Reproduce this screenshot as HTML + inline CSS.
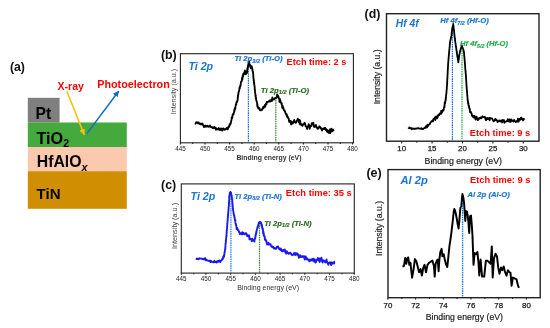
<!DOCTYPE html>
<html><head><meta charset="utf-8"><style>
html,body{margin:0;padding:0;background:#fff;overflow:hidden;width:550px;height:328px;}
svg{display:block;will-change:transform;font-family:"Liberation Sans", sans-serif;}
</style></head><body>
<svg width="550" height="328" viewBox="0 0 550 328">
<rect width="550" height="328" fill="#fff"/>
<text x="9.9" y="70.7" font-size="12.3" font-weight="bold" fill="#111">(a)</text>
<rect x="27.8" y="97.8" width="31.8" height="24.8" fill="#7f7f7f"/>
<rect x="27.8" y="122.5" width="99" height="24.6" fill="#45a93d"/>
<rect x="27.8" y="147" width="99" height="24.2" fill="#fac9ae"/>
<rect x="27.8" y="171.2" width="99" height="37.6" fill="#d08f02"/>
<text x="35.5" y="118.8" font-size="15.7" font-weight="bold" fill="#000">Pt</text>
<text x="36.5" y="143.8" font-size="16.2" font-weight="bold" fill="#000">TiO<tspan font-size="10.5" dy="3">2</tspan></text>
<text x="36.8" y="167.4" font-size="15.8" font-weight="bold" fill="#000">HfAlO<tspan font-size="10.8" dy="3.4" font-style="italic">x</tspan></text>
<text x="36.6" y="199.2" font-size="15" font-weight="bold" fill="#000">TiN</text>
<text x="57.6" y="89.9" font-size="10.5" font-weight="bold" fill="#ff0000">X-ray</text>
<text x="97.2" y="87.8" font-size="10.8" font-weight="bold" fill="#ff0000">Photoelectron</text>
<defs><marker id="ay" markerWidth="6" markerHeight="6" refX="5.5" refY="3" orient="auto" markerUnits="userSpaceOnUse"><path d="M0,0 L6,3 L0,6 z" fill="#fcbf08"/></marker><marker id="ab" markerWidth="6" markerHeight="6" refX="5.5" refY="3" orient="auto" markerUnits="userSpaceOnUse"><path d="M0,0 L6,3 L0,6 z" fill="#0d6fc4"/></marker></defs>
<line x1="66.9" y1="91.2" x2="84.2" y2="134.6" stroke="#fcbf08" stroke-width="1.5" marker-end="url(#ay)"/>
<line x1="86.9" y1="133.6" x2="118.6" y2="91.2" stroke="#0d6fc4" stroke-width="1.5" marker-end="url(#ab)"/>
<text x="160.9" y="58.6" font-size="12.4" font-weight="bold" fill="#111">(b)</text>
<rect x="180.4" y="53.7" width="173" height="89.1" fill="none" stroke="#222" stroke-width="1.1"/>
<line x1="180.4" y1="142.8" x2="180.4" y2="144.4" stroke="#222" stroke-width="1.1"/>
<line x1="205.0" y1="142.8" x2="205.0" y2="144.4" stroke="#222" stroke-width="1.1"/>
<line x1="229.6" y1="142.8" x2="229.6" y2="144.4" stroke="#222" stroke-width="1.1"/>
<line x1="254.2" y1="142.8" x2="254.2" y2="144.4" stroke="#222" stroke-width="1.1"/>
<line x1="278.8" y1="142.8" x2="278.8" y2="144.4" stroke="#222" stroke-width="1.1"/>
<line x1="303.4" y1="142.8" x2="303.4" y2="144.4" stroke="#222" stroke-width="1.1"/>
<line x1="328.0" y1="142.8" x2="328.0" y2="144.4" stroke="#222" stroke-width="1.1"/>
<line x1="352.6" y1="142.8" x2="352.6" y2="144.4" stroke="#222" stroke-width="1.1"/>
<line x1="192.7" y1="142.8" x2="192.7" y2="144.0" stroke="#222" stroke-width="1.1"/>
<line x1="217.3" y1="142.8" x2="217.3" y2="144.0" stroke="#222" stroke-width="1.1"/>
<line x1="241.9" y1="142.8" x2="241.9" y2="144.0" stroke="#222" stroke-width="1.1"/>
<line x1="266.5" y1="142.8" x2="266.5" y2="144.0" stroke="#222" stroke-width="1.1"/>
<line x1="291.1" y1="142.8" x2="291.1" y2="144.0" stroke="#222" stroke-width="1.1"/>
<line x1="315.7" y1="142.8" x2="315.7" y2="144.0" stroke="#222" stroke-width="1.1"/>
<line x1="340.3" y1="142.8" x2="340.3" y2="144.0" stroke="#222" stroke-width="1.1"/>
<text x="180.4" y="151.2" font-size="6.3" fill="#222" text-anchor="middle">445</text>
<text x="205.0" y="151.2" font-size="6.3" fill="#222" text-anchor="middle">450</text>
<text x="229.6" y="151.2" font-size="6.3" fill="#222" text-anchor="middle">455</text>
<text x="254.2" y="151.2" font-size="6.3" fill="#222" text-anchor="middle">460</text>
<text x="278.8" y="151.2" font-size="6.3" fill="#222" text-anchor="middle">465</text>
<text x="303.4" y="151.2" font-size="6.3" fill="#222" text-anchor="middle">470</text>
<text x="328.0" y="151.2" font-size="6.3" fill="#222" text-anchor="middle">475</text>
<text x="352.6" y="151.2" font-size="6.3" fill="#222" text-anchor="middle">480</text>
<text x="236.4" y="160.2" font-size="6.9" font-weight="bold" fill="#333">Binding energy (eV)</text>
<text transform="translate(176.1,91.6) rotate(-90)" font-size="7.2" fill="#444" text-anchor="middle">Intensity (a.u.)</text>
<line x1="248.4" y1="64" x2="248.4" y2="142" stroke="#1a75d2" stroke-width="1.2" stroke-dasharray="1.6 0.7"/>
<line x1="275.8" y1="100" x2="275.8" y2="142" stroke="#3d8b34" stroke-width="1.2" stroke-dasharray="1.6 0.7"/>
<polyline points="194.9,123.5 195.4,123.8 195.9,122.8 196.5,122.3 197.0,122.1 197.6,123.2 198.1,122.5 198.7,122.4 199.2,123.8 199.8,123.9 200.4,124.4 200.9,123.4 201.4,124.3 202.0,124.4 202.5,123.5 203.0,125.4 203.6,125.4 204.1,127.2 204.6,125.8 205.2,125.5 205.8,126.7 206.4,125.9 207.0,126.5 207.5,125.6 208.0,126.1 208.5,126.8 209.0,126.7 209.5,126.3 210.0,125.5 210.5,126.9 211.0,126.7 211.5,127.4 212.0,127.2 212.5,128.0 213.0,127.3 213.4,127.6 213.9,128.2 214.4,127.0 214.9,127.6 215.4,127.7 216.0,129.8 216.5,128.4 217.0,129.1 217.6,129.3 218.2,128.7 218.7,127.9 219.3,130.1 219.8,129.0 220.4,129.9 220.9,128.3 221.5,129.0 222.0,130.4 222.5,130.5 223.1,128.3 223.6,128.3 224.1,129.3 224.7,129.8 225.4,129.2 226.0,129.2 226.6,128.0 227.2,129.1 227.8,129.3 228.2,127.6 228.6,126.3 229.0,126.4 229.2,127.0 229.5,124.5 229.8,125.3 230.0,124.0 230.2,124.1 230.3,123.5 230.5,123.2 230.7,123.8 230.8,122.4 231.0,122.5 231.2,120.9 231.3,120.1 231.5,120.2 231.7,117.2 231.8,118.8 232.0,118.4 232.2,116.8 232.3,117.6 232.5,116.2 232.7,114.2 232.8,115.4 233.0,114.2 233.2,114.0 233.4,113.8 233.6,114.3 233.8,112.8 234.0,112.2 234.1,112.0 234.3,109.7 234.4,111.6 234.6,109.2 234.7,109.9 234.9,108.1 235.0,107.7 235.1,107.7 235.3,109.0 235.4,107.5 235.6,106.0 235.7,105.8 235.8,104.6 236.0,105.0 236.1,104.1 236.2,104.6 236.4,102.4 236.5,102.7 236.7,101.8 236.8,101.4 237.0,102.1 237.1,101.1 237.3,101.0 237.4,100.9 237.6,100.4 237.7,97.9 237.7,98.9 237.8,96.6 237.9,97.4 237.9,98.4 238.0,96.2 238.1,95.5 238.1,95.4 238.2,94.8 238.3,94.3 238.3,93.1 238.4,94.0 238.5,93.4 238.6,92.0 238.8,91.9 238.9,91.6 239.0,91.4 239.1,90.4 239.3,90.1 239.4,88.8 239.5,87.7 239.6,87.6 239.8,88.3 239.9,87.8 240.0,86.6 240.2,85.6 240.3,85.7 240.4,86.3 240.6,85.6 240.7,83.5 240.8,83.5 241.0,81.9 241.1,81.6 241.2,82.1 241.3,81.5 241.5,81.8 241.6,81.5 241.7,80.7 241.9,80.6 242.0,78.6 242.1,77.7 242.2,78.5 242.4,79.7 242.5,77.4 242.7,75.7 242.8,76.2 243.0,76.7 243.1,74.2 243.3,75.1 243.5,73.5 243.7,74.5 243.8,73.7 244.0,72.8 244.3,73.6 244.7,71.2 245.0,70.5 245.2,73.0 245.3,71.4 245.4,74.4 245.6,73.2 245.8,72.9 245.9,74.3 246.1,73.9 246.4,73.5 246.6,72.7 246.9,73.1 247.1,70.0 247.2,70.8 247.3,70.5 247.3,71.6 247.4,68.1 247.5,68.9 247.6,67.7 247.6,67.5 247.7,68.0 247.8,67.3 247.9,67.6 248.0,65.4 248.1,65.5 248.2,65.7 248.3,64.9 248.5,63.4 248.6,64.0 248.8,61.8 248.9,63.4 249.1,61.5 249.2,61.8 249.3,62.7 249.4,63.7 249.4,64.9 249.5,64.0 249.6,64.3 249.7,65.6 249.8,65.0 250.1,64.8 250.3,67.3 250.6,66.8 250.8,68.4 251.1,67.2 251.7,66.1 252.3,68.9 252.4,69.4 252.5,71.0 252.6,70.7 252.7,71.1 252.8,71.9 252.9,71.7 253.0,72.6 253.0,71.9 253.1,73.9 253.1,73.4 253.2,74.2 253.2,75.5 253.3,76.2 253.3,75.2 253.4,78.1 253.4,76.5 253.5,78.2 253.5,78.7 253.6,78.7 253.6,79.1 253.7,80.9 253.7,80.7 253.8,80.8 253.8,79.6 253.9,80.9 253.9,82.9 254.0,82.7 254.1,82.3 254.2,83.0 254.2,83.8 254.3,85.0 254.4,85.3 254.5,86.3 254.5,85.4 254.6,87.3 254.6,86.6 254.7,87.3 254.7,89.4 254.8,88.6 254.8,88.9 254.9,89.3 254.9,89.7 255.0,91.7 255.0,92.1 255.1,92.1 255.1,92.1 255.2,93.3 255.2,92.9 255.3,93.9 255.3,94.3 255.4,94.6 255.5,96.3 255.6,96.9 255.7,97.0 255.7,95.0 255.8,98.4 255.9,98.0 256.0,97.6 256.1,98.5 256.2,99.9 256.3,100.4 256.4,100.7 256.5,100.6 256.6,101.0 256.7,102.2 256.8,102.0 256.9,101.9 257.0,102.6 257.1,103.5 257.2,104.4 257.3,106.4 257.4,104.1 257.5,106.1 257.6,106.1 257.9,106.9 258.1,108.2 258.4,108.6 258.7,107.9 258.9,108.1 259.2,107.9 259.6,109.2 260.1,110.4 260.6,109.5 261.0,110.4 261.4,110.1 261.8,109.5 262.2,109.9 262.6,108.4 263.0,107.4 263.3,106.6 263.6,108.2 263.9,106.6 264.3,106.2 264.6,106.9 264.9,104.9 265.2,106.9 265.5,105.4 265.9,103.8 266.2,103.3 266.5,104.5 266.8,101.8 267.2,101.9 267.5,102.1 268.0,102.0 268.4,101.5 268.9,101.6 269.3,100.6 269.8,100.5 270.3,101.5 270.8,100.7 271.4,99.4 271.9,101.2 272.4,97.4 272.9,99.1 273.5,99.5 274.0,99.6 274.6,98.6 275.2,97.9 275.7,98.5 276.1,97.5 276.6,97.8 277.1,94.3 277.5,96.9 277.8,95.2 278.2,96.4 278.3,96.7 278.4,97.2 278.5,96.6 278.7,97.9 278.8,97.7 278.9,98.7 279.0,98.9 279.2,98.6 279.5,101.8 279.7,101.1 279.9,98.9 280.1,102.2 280.4,100.4 280.6,102.0 280.8,102.1 281.1,102.6 281.3,103.8 281.5,103.8 281.7,103.2 281.9,105.1 282.1,105.9 282.3,107.8 282.5,106.1 282.7,105.9 282.9,107.2 283.1,108.6 283.3,107.7 283.5,108.3 283.7,110.0 284.0,109.9 284.2,110.6 284.5,110.2 284.7,110.5 284.9,111.5 285.2,112.1 285.4,112.4 285.6,113.6 285.9,114.1 286.1,114.6 286.4,115.0 286.6,114.1 286.8,114.4 287.0,116.8 287.2,116.5 287.4,117.1 287.6,116.3 287.9,117.7 288.1,117.8 288.3,118.1 288.5,118.8 288.7,118.5 288.9,120.5 289.3,121.9 289.7,120.5 290.0,121.6 290.4,120.9 290.8,123.0 291.2,124.5 291.7,121.4 292.2,122.2 292.7,123.7 293.2,122.5 293.7,122.1 294.2,119.9 294.7,121.6 295.2,122.5 295.7,122.9 296.2,122.3 296.8,120.5 297.3,120.3 297.8,118.6 298.3,119.5 298.8,122.3 299.1,121.1 299.4,119.9 299.7,123.9 300.1,120.4 300.4,124.7 300.7,123.1 301.0,124.4 301.5,125.0 302.0,124.5 302.5,125.9 303.1,124.4 303.6,124.0 304.1,123.7 304.6,122.7 305.1,123.8 305.6,126.2 306.1,126.1 306.6,127.0 307.1,129.0 307.7,126.5 308.2,126.3 308.7,124.1 309.2,125.7 309.7,128.8 310.2,126.5 310.7,125.6 311.2,126.1 311.8,123.1 312.3,124.4 312.8,123.7 313.3,122.6 313.8,126.6 314.3,127.0 314.8,125.7 315.4,126.5 315.9,124.9 316.4,127.0 316.9,127.5 317.4,128.7 317.9,128.9 318.4,127.7 318.9,127.1 319.4,126.3 320.0,126.8 320.5,128.6 321.0,128.7 321.5,128.1 322.0,130.5 322.6,129.3 323.1,128.6 323.6,128.5 324.1,129.1 324.6,127.9 325.2,128.0 325.7,130.0 326.2,129.0 326.6,129.6 327.1,131.8 327.5,130.2 328.0,132.4 328.4,130.9 328.9,133.1 329.3,132.0 329.8,129.3 330.3,133.1 330.8,131.2 331.3,128.7 331.9,131.4 332.4,131.4 332.9,129.4 333.4,130.2 333.9,130.9" fill="none" stroke="#000" stroke-width="1.8" stroke-linejoin="round"/>
<text x="188.4" y="69.6" font-size="10.7" font-weight="bold" font-style="italic" fill="#1a75d2">Ti 2p</text>
<text x="234.5" y="61.2" font-size="7.7" font-weight="bold" font-style="italic" fill="#1a75d2" stroke="#1a75d2" stroke-width="0.18">Ti 2p<tspan font-size="5.6" dy="1.8">3/2</tspan><tspan dy="-1.8"> (Ti-O)</tspan></text>
<text x="260.8" y="92.6" font-size="7.75" font-weight="bold" font-style="italic" fill="#2a6e22" stroke="#2a6e22" stroke-width="0.18">Ti 2p<tspan font-size="5.6" dy="1.8">1/2</tspan><tspan dy="-1.8"> (Ti-O)</tspan></text>
<text x="286.6" y="65" font-size="9.2" font-weight="bold" fill="#ff0000">Etch time: 2 s</text>
<text x="161" y="188.9" font-size="12.4" font-weight="bold" fill="#111">(c)</text>
<rect x="181.3" y="183.9" width="173" height="89.2" fill="none" stroke="#222" stroke-width="1.1"/>
<line x1="181.3" y1="273.1" x2="181.3" y2="274.70000000000005" stroke="#222" stroke-width="1.1"/>
<line x1="206.0" y1="273.1" x2="206.0" y2="274.70000000000005" stroke="#222" stroke-width="1.1"/>
<line x1="230.7" y1="273.1" x2="230.7" y2="274.70000000000005" stroke="#222" stroke-width="1.1"/>
<line x1="255.4" y1="273.1" x2="255.4" y2="274.70000000000005" stroke="#222" stroke-width="1.1"/>
<line x1="280.1" y1="273.1" x2="280.1" y2="274.70000000000005" stroke="#222" stroke-width="1.1"/>
<line x1="304.8" y1="273.1" x2="304.8" y2="274.70000000000005" stroke="#222" stroke-width="1.1"/>
<line x1="329.5" y1="273.1" x2="329.5" y2="274.70000000000005" stroke="#222" stroke-width="1.1"/>
<line x1="354.2" y1="273.1" x2="354.2" y2="274.70000000000005" stroke="#222" stroke-width="1.1"/>
<line x1="193.7" y1="273.1" x2="193.7" y2="274.3" stroke="#222" stroke-width="1.1"/>
<line x1="218.4" y1="273.1" x2="218.4" y2="274.3" stroke="#222" stroke-width="1.1"/>
<line x1="243.1" y1="273.1" x2="243.1" y2="274.3" stroke="#222" stroke-width="1.1"/>
<line x1="267.8" y1="273.1" x2="267.8" y2="274.3" stroke="#222" stroke-width="1.1"/>
<line x1="292.5" y1="273.1" x2="292.5" y2="274.3" stroke="#222" stroke-width="1.1"/>
<line x1="317.2" y1="273.1" x2="317.2" y2="274.3" stroke="#222" stroke-width="1.1"/>
<line x1="341.9" y1="273.1" x2="341.9" y2="274.3" stroke="#222" stroke-width="1.1"/>
<text x="181.3" y="281.2" font-size="6.3" fill="#222" text-anchor="middle">445</text>
<text x="206.0" y="281.2" font-size="6.3" fill="#222" text-anchor="middle">450</text>
<text x="230.7" y="281.2" font-size="6.3" fill="#222" text-anchor="middle">455</text>
<text x="255.4" y="281.2" font-size="6.3" fill="#222" text-anchor="middle">460</text>
<text x="280.1" y="281.2" font-size="6.3" fill="#222" text-anchor="middle">465</text>
<text x="304.8" y="281.2" font-size="6.3" fill="#222" text-anchor="middle">470</text>
<text x="329.5" y="281.2" font-size="6.3" fill="#222" text-anchor="middle">475</text>
<text x="354.2" y="281.2" font-size="6.3" fill="#222" text-anchor="middle">480</text>
<text x="237.2" y="290.4" font-size="7" fill="#333">Binding energy (eV)</text>
<text transform="translate(177.1,226) rotate(-90)" font-size="7.3" fill="#444" text-anchor="middle">Intensity (a.u.)</text>
<line x1="230.9" y1="194" x2="230.9" y2="273" stroke="#3f93e2" stroke-width="1.4" stroke-dasharray="1.6 0.7"/>
<line x1="259.5" y1="223" x2="259.5" y2="273" stroke="#3d8b34" stroke-width="1.2" stroke-dasharray="1.6 0.7"/>
<polyline points="196.3,259.8 196.9,258.4 197.5,259.0 198.1,258.9 198.6,259.2 199.2,258.2 199.8,258.7 200.4,258.6 201.0,258.5 201.6,258.6 202.2,258.9 202.8,259.0 203.4,258.8 204.0,259.5 204.6,259.0 205.1,258.0 205.7,260.3 206.2,259.7 206.8,259.8 207.3,260.5 207.9,260.7 208.4,260.8 209.0,260.6 209.5,261.3 210.0,260.6 210.6,262.1 211.1,261.0 211.7,261.6 212.2,261.8 212.8,262.0 213.3,261.9 213.9,262.4 214.4,260.7 214.9,262.1 215.5,262.0 216.0,261.8 216.6,262.6 217.1,261.3 217.7,261.7 218.2,260.6 218.8,261.7 219.3,260.7 219.8,260.4 220.3,262.1 220.8,261.0 221.3,260.4 221.8,260.3 222.3,258.9 222.6,258.5 222.9,259.0 223.2,256.6 223.5,257.7 223.7,255.7 223.8,256.5 223.9,255.1 224.1,256.7 224.2,255.6 224.4,253.9 224.5,252.3 224.6,252.5 224.7,252.4 224.8,251.1 224.8,251.4 224.9,251.4 225.0,250.0 225.1,249.1 225.2,249.4 225.2,248.1 225.3,248.4 225.3,247.0 225.4,247.8 225.4,245.9 225.5,244.7 225.5,245.0 225.6,244.0 225.6,243.2 225.7,243.2 225.8,243.3 225.8,240.6 225.9,241.6 225.9,241.0 226.0,240.4 226.0,240.6 226.1,238.5 226.1,239.4 226.2,238.2 226.2,237.8 226.3,237.0 226.3,236.4 226.4,235.7 226.4,235.8 226.5,236.5 226.5,235.2 226.5,234.5 226.6,233.7 226.6,232.4 226.6,232.6 226.7,233.1 226.7,230.1 226.8,231.1 226.8,230.7 226.9,229.6 226.9,229.4 227.0,229.2 227.0,229.3 227.1,228.0 227.1,227.7 227.2,226.2 227.2,226.0 227.2,224.9 227.3,224.4 227.3,223.3 227.4,223.6 227.4,223.6 227.5,221.8 227.5,221.6 227.6,221.3 227.6,220.3 227.7,220.4 227.7,219.4 227.8,217.8 227.8,217.3 227.9,218.1 227.9,217.4 227.9,217.2 228.0,216.0 228.0,215.5 228.1,213.6 228.1,215.2 228.2,213.0 228.2,213.8 228.3,211.7 228.3,211.5 228.4,211.5 228.4,210.6 228.4,209.8 228.5,210.4 228.5,209.7 228.6,208.9 228.6,207.9 228.7,207.0 228.7,206.7 228.8,206.1 228.8,205.9 228.9,205.9 228.9,204.7 228.9,203.7 229.0,203.2 229.0,204.1 229.0,202.7 229.0,202.2 229.1,201.7 229.1,201.4 229.1,200.5 229.1,200.7 229.2,199.9 229.2,196.7 229.2,198.1 229.2,199.8 229.2,196.2 229.3,196.6 229.3,196.8 229.4,195.4 229.6,195.8 229.7,193.3 229.8,192.7 230.1,192.9 230.4,192.0 231.0,192.4 231.2,194.2 231.3,194.5 231.4,194.9 231.6,195.2 231.7,196.2 231.7,196.5 231.8,196.6 231.9,198.1 231.9,198.5 232.0,198.9 232.1,199.9 232.2,199.1 232.2,200.3 232.3,200.6 232.3,202.5 232.4,202.5 232.4,204.2 232.5,204.4 232.5,203.5 232.6,203.6 232.6,205.3 232.7,205.3 232.7,205.9 232.7,205.9 232.8,207.6 232.8,207.9 232.9,208.6 232.9,209.1 233.0,208.8 233.0,208.4 233.1,210.4 233.2,210.7 233.4,211.3 233.5,212.9 233.6,212.7 233.7,214.4 233.8,214.0 233.9,214.9 234.1,215.4 234.2,216.1 234.3,215.2 234.4,217.4 234.5,217.3 234.6,217.1 234.7,218.8 234.8,219.1 235.0,220.4 235.1,220.5 235.2,220.8 235.3,219.9 235.4,222.9 235.5,223.3 235.6,223.3 235.7,223.6 235.8,224.7 235.9,223.8 236.0,225.5 236.2,225.5 236.3,225.4 236.4,226.9 236.5,227.4 236.6,229.0 236.7,229.0 237.0,227.6 237.3,227.9 237.6,229.7 237.9,230.1 238.2,230.1 238.5,230.3 238.8,231.7 239.1,231.5 239.4,232.4 239.8,234.0 240.1,234.1 240.4,233.9 240.8,233.1 241.3,233.4 241.8,234.3 242.2,232.2 242.8,234.2 243.4,232.8 244.0,233.6 244.6,234.3 245.3,233.2 245.9,233.8 246.3,233.3 246.8,235.2 247.2,236.0 247.7,235.1 248.1,236.2 248.6,236.2 249.1,235.4 249.5,239.4 249.9,238.3 250.4,238.9 250.9,239.1 251.3,239.4 251.8,241.3 252.2,238.6 252.7,240.0 253.2,240.2 253.8,240.6 254.4,241.6 254.5,240.0 254.6,239.0 254.8,238.6 254.9,239.2 255.0,239.0 255.1,238.4 255.2,238.4 255.4,236.3 255.5,236.9 255.6,236.1 255.7,234.9 255.8,234.0 256.0,234.6 256.1,232.9 256.2,232.6 256.3,231.6 256.4,233.0 256.6,231.2 256.7,230.3 256.8,229.9 257.0,229.3 257.2,229.0 257.4,227.1 257.6,226.9 257.7,227.5 257.9,227.4 258.1,225.3 258.3,225.5 258.5,224.5 258.7,222.7 258.9,223.6 259.1,222.5 259.3,223.4 259.5,222.0 260.1,222.7 260.7,222.1 261.0,223.8 261.2,222.9 261.5,225.0 261.7,226.4 262.0,225.0 262.1,227.1 262.2,228.0 262.3,227.4 262.4,228.9 262.5,228.7 262.7,228.9 262.8,228.3 262.9,229.6 263.0,229.8 263.1,233.2 263.2,232.2 263.3,232.4 263.5,232.1 263.6,234.9 263.8,233.3 263.9,235.8 264.1,236.1 264.2,235.9 264.4,235.9 264.5,236.9 264.7,236.5 264.8,238.5 265.0,239.8 265.2,239.7 265.5,240.4 265.7,239.6 265.9,240.9 266.2,240.5 266.4,241.4 266.6,242.8 267.1,244.6 267.5,243.3 267.9,243.7 268.4,242.7 268.9,244.7 269.5,244.3 270.0,244.4 270.5,244.1 271.1,246.2 271.6,245.9 272.1,247.3 272.7,246.5 273.3,246.9 274.0,248.6 274.6,248.0 275.2,248.1 275.8,249.1 276.4,247.9 277.0,246.7 277.6,247.1 278.2,246.4 278.7,248.7 279.2,248.2 279.8,249.4 280.3,250.0 280.8,248.5 281.3,249.8 281.8,251.2 282.3,250.2 282.8,251.4 283.3,250.5 283.8,249.9 284.3,250.9 284.8,249.4 285.3,252.5 285.8,251.4 286.3,253.7 286.8,251.1 287.3,252.8 287.8,253.3 288.3,253.0 288.9,253.9 289.4,252.9 289.9,252.8 290.4,252.7 290.9,253.8 291.4,253.8 292.0,255.2 292.5,254.8 293.0,254.8 293.6,254.5 294.1,253.0 294.7,254.5 295.2,255.1 295.8,253.0 296.3,253.9 296.9,254.7 297.4,253.5 297.8,254.8 298.3,254.4 298.8,257.8 299.3,257.0 299.8,257.0 300.2,255.3 300.7,257.0 301.3,256.3 301.9,257.0 302.5,256.1 303.1,257.0 303.7,256.2 304.2,257.6 304.7,259.5 305.2,256.3 305.8,256.6 306.3,258.9 306.8,259.5 307.3,258.4 307.8,259.7 308.3,259.8 308.8,260.2 309.3,261.4 309.8,259.4 310.4,260.8 311.0,260.3 311.7,259.3 312.3,260.6 312.9,258.7 313.5,258.6 314.1,261.6 314.8,259.4 315.4,262.6 316.0,262.0 316.6,260.2 317.2,259.6 317.8,258.0 318.4,260.2 319.0,258.3 319.6,262.0 320.2,258.6 320.8,260.6 321.4,257.7 322.0,260.5 322.6,262.5 323.1,260.6 323.7,260.3 324.2,260.8 324.8,261.8 325.3,262.5 325.9,261.3 326.5,259.5 327.1,262.3 327.7,263.1 328.3,264.8 328.9,262.6 329.5,262.8 330.0,262.2 330.6,263.8 331.2,265.1 331.8,262.3 332.4,263.7 332.9,262.6 333.5,263.2 333.8,263.3 334.1,263.6 334.4,261.6 334.7,261.7 335.0,261.6" fill="none" stroke="#1a1af0" stroke-width="1.85" stroke-linejoin="round"/>
<text x="190.6" y="200.2" font-size="10.7" font-weight="bold" font-style="italic" fill="#1a75d2">Ti 2p</text>
<text x="234.5" y="198.5" font-size="7.65" font-weight="bold" font-style="italic" fill="#1a75d2" stroke="#1a75d2" stroke-width="0.18">Ti 2p<tspan font-size="5.5" dy="1.8">3/2</tspan><tspan dy="-1.8"> (Ti-N)</tspan></text>
<text x="264.2" y="225.6" font-size="7.65" font-weight="bold" font-style="italic" fill="#2a6e22" stroke="#2a6e22" stroke-width="0.18">Ti 2p<tspan font-size="5.5" dy="1.8">1/2</tspan><tspan dy="-1.8"> (Ti-N)</tspan></text>
<text x="285.8" y="196" font-size="9.35" font-weight="bold" fill="#ff0000">Etch time: 35 s</text>
<text x="364.6" y="17.5" font-size="12.4" font-weight="bold" fill="#111">(d)</text>
<rect x="386.5" y="13.7" width="152.5" height="127.5" fill="none" stroke="#222" stroke-width="1.4"/>
<line x1="401.7" y1="141.2" x2="401.7" y2="143.39999999999998" stroke="#222" stroke-width="1.1"/>
<line x1="432.1" y1="141.2" x2="432.1" y2="143.39999999999998" stroke="#222" stroke-width="1.1"/>
<line x1="462.5" y1="141.2" x2="462.5" y2="143.39999999999998" stroke="#222" stroke-width="1.1"/>
<line x1="492.9" y1="141.2" x2="492.9" y2="143.39999999999998" stroke="#222" stroke-width="1.1"/>
<line x1="523.3" y1="141.2" x2="523.3" y2="143.39999999999998" stroke="#222" stroke-width="1.1"/>
<line x1="416.9" y1="141.2" x2="416.9" y2="142.7" stroke="#222" stroke-width="1.1"/>
<line x1="447.3" y1="141.2" x2="447.3" y2="142.7" stroke="#222" stroke-width="1.1"/>
<line x1="477.7" y1="141.2" x2="477.7" y2="142.7" stroke="#222" stroke-width="1.1"/>
<line x1="508.1" y1="141.2" x2="508.1" y2="142.7" stroke="#222" stroke-width="1.1"/>
<text x="401.7" y="151.4" font-size="7.9" fill="#1a1a1a" stroke="#1a1a1a" stroke-width="0.25" text-anchor="middle">10</text>
<text x="432.1" y="151.4" font-size="7.9" fill="#1a1a1a" stroke="#1a1a1a" stroke-width="0.25" text-anchor="middle">15</text>
<text x="462.5" y="151.4" font-size="7.9" fill="#1a1a1a" stroke="#1a1a1a" stroke-width="0.25" text-anchor="middle">20</text>
<text x="492.9" y="151.4" font-size="7.9" fill="#1a1a1a" stroke="#1a1a1a" stroke-width="0.25" text-anchor="middle">25</text>
<text x="523.3" y="151.4" font-size="7.9" fill="#1a1a1a" stroke="#1a1a1a" stroke-width="0.25" text-anchor="middle">30</text>
<text x="424.6" y="163.7" font-size="8.75" fill="#222" stroke="#222" stroke-width="0.2">Binding energy (eV)</text>
<text transform="translate(379.7,76.8) rotate(-90)" font-size="8.7" fill="#2a2a2a" stroke="#2a2a2a" stroke-width="0.2" text-anchor="middle">Intensity (a.u.)</text>
<line x1="452.4" y1="30" x2="452.4" y2="141" stroke="#1a75d2" stroke-width="1.2" stroke-dasharray="1.6 0.7"/>
<line x1="462" y1="48" x2="462" y2="141" stroke="#22b04a" stroke-width="1.2" stroke-dasharray="1.6 0.7"/>
<polyline points="408.3,127.5 408.9,128.2 409.5,127.4 410.1,128.4 410.8,128.0 411.4,128.1 412.0,129.2 412.6,128.5 413.1,128.5 413.6,128.8 414.2,129.0 414.8,128.6 415.3,128.9 415.9,128.3 416.4,128.6 416.9,128.6 417.5,128.2 418.1,128.2 418.6,128.1 419.1,128.7 419.7,128.7 420.2,128.7 420.8,128.8 421.4,128.2 421.9,128.8 422.4,128.9 423.0,129.1 423.6,128.3 424.2,128.3 424.9,127.5 425.5,128.0 426.0,126.1 426.5,126.1 427.0,127.4 427.4,124.6 427.8,126.3 428.2,125.5 428.6,124.6 429.0,124.7 429.4,124.3 429.8,124.3 430.2,122.9 430.7,122.3 431.1,121.9 431.6,121.2 432.0,121.5 432.5,120.5 433.0,121.4 433.5,118.9 434.0,119.0 434.4,118.7 434.9,117.5 435.3,120.0 435.7,116.6 436.1,117.7 436.5,117.2 437.0,118.4 437.4,115.4 437.8,117.1 438.1,115.4 438.5,115.4 438.9,114.5 439.3,115.0 439.6,113.3 440.0,113.6 440.4,113.5 440.8,114.1 441.2,110.6 441.6,113.0 442.0,112.2 442.4,110.7 442.7,110.7 443.1,109.7 443.4,110.7 443.8,109.2 443.9,108.3 444.0,107.7 444.1,107.2 444.3,106.7 444.4,105.6 444.5,107.2 444.6,103.8 444.7,102.2 444.8,104.0 445.0,103.4 445.1,103.3 445.2,102.3 445.3,101.8 445.4,101.6 445.4,101.5 445.5,99.9 445.6,99.4 445.7,100.5 445.7,98.9 445.8,97.2 445.9,99.0 446.0,97.4 446.0,96.0 446.1,95.2 446.2,95.2 446.3,94.2 446.3,93.6 446.4,92.9 446.4,92.7 446.5,92.7 446.5,91.6 446.6,90.6 446.6,90.8 446.6,90.1 446.7,89.8 446.7,89.4 446.8,88.3 446.8,87.7 446.8,87.2 446.9,86.3 446.9,86.4 447.0,86.1 447.0,85.1 447.0,84.3 447.1,83.7 447.1,83.0 447.1,82.4 447.2,81.9 447.2,81.2 447.2,80.8 447.3,79.8 447.3,79.9 447.3,79.2 447.4,78.2 447.4,77.2 447.4,77.4 447.5,77.3 447.5,76.1 447.5,75.6 447.5,75.0 447.6,74.9 447.6,73.8 447.6,73.9 447.6,72.9 447.7,72.8 447.7,71.9 447.7,71.3 447.8,70.2 447.8,70.0 447.8,69.6 447.8,69.3 447.9,68.6 447.9,67.7 447.9,67.6 448.0,67.2 448.0,66.2 448.0,65.6 448.1,65.0 448.1,64.9 448.1,64.2 448.2,63.1 448.2,63.0 448.3,62.1 448.3,61.4 448.3,61.6 448.4,60.9 448.4,59.7 448.5,59.5 448.5,59.1 448.6,58.1 448.6,57.7 448.7,57.5 448.7,56.0 448.8,56.2 448.8,55.8 448.9,55.2 448.9,53.9 449.0,53.9 449.0,52.9 449.1,52.9 449.1,52.3 449.2,51.6 449.2,50.6 449.3,50.1 449.4,50.1 449.4,48.8 449.4,48.8 449.5,48.2 449.6,47.3 449.6,47.7 449.7,46.2 449.7,46.4 449.8,44.3 449.9,43.6 449.9,44.2 450.0,43.4 450.0,42.5 450.1,42.0 450.2,40.7 450.3,40.6 450.5,39.9 450.6,39.6 450.7,39.4 450.8,38.5 450.9,38.0 451.1,37.0 451.2,36.5 451.4,36.0 451.5,35.3 451.5,35.3 451.6,34.0 451.6,34.5 451.7,32.9 451.7,33.0 451.8,31.8 451.8,32.1 451.9,31.0 452.0,30.6 452.1,30.1 452.2,29.1 452.3,28.3 452.4,27.4 452.5,28.0 452.6,26.7 452.8,26.2 452.9,25.8 453.1,25.9 453.2,24.0 453.3,25.3 453.4,25.7 453.5,26.6 453.5,26.4 453.6,27.5 453.7,28.6 453.8,29.4 453.9,30.1 454.0,29.8 454.0,30.7 454.1,31.2 454.1,31.3 454.2,31.9 454.2,33.3 454.3,33.7 454.4,34.1 454.4,35.2 454.5,35.0 454.5,36.1 454.6,36.5 454.7,37.0 454.7,37.8 454.8,38.2 454.9,38.8 455.0,39.3 455.0,40.5 455.1,40.2 455.2,41.3 455.2,41.7 455.3,41.9 455.4,42.9 455.5,42.9 455.6,44.2 455.7,44.1 455.7,44.8 455.8,45.7 455.9,46.5 456.0,47.1 456.1,47.7 456.2,47.9 456.3,48.2 456.3,49.3 456.4,49.8 456.5,49.9 456.6,51.2 456.7,51.5 456.8,51.7 456.8,52.7 456.9,52.7 457.0,53.4 457.1,54.4 457.2,54.3 457.2,55.5 457.3,55.5 457.4,56.9 457.5,56.9 457.6,57.9 457.7,57.9 457.8,58.9 457.9,59.9 458.0,60.4 458.1,60.1 458.2,61.7 458.3,62.3 458.4,61.3 458.5,61.4 458.5,60.0 458.6,59.8 458.7,59.7 458.8,59.2 458.9,58.6 459.0,57.2 459.0,56.4 459.1,56.7 459.2,55.5 459.3,55.4 459.4,54.4 459.5,54.7 459.6,54.1 459.7,53.4 459.8,52.7 459.9,52.1 460.0,51.4 460.1,51.1 460.2,50.5 460.4,50.0 460.6,49.1 460.7,49.4 460.9,48.2 461.0,48.0 461.3,47.5 461.6,46.2 461.9,45.4 462.2,47.1 462.4,47.1 462.7,47.9 463.0,48.4 463.2,49.1 463.3,49.3 463.5,50.3 463.6,50.7 463.8,51.5 463.9,51.3 463.9,53.0 464.0,53.4 464.1,53.2 464.1,54.2 464.2,55.1 464.2,55.9 464.3,56.2 464.4,57.3 464.4,57.4 464.5,57.6 464.5,58.3 464.6,59.4 464.6,59.5 464.7,60.6 464.7,61.2 464.7,61.6 464.8,62.3 464.8,62.5 464.9,63.1 464.9,63.4 465.0,64.0 465.0,64.2 465.0,65.1 465.1,65.5 465.1,66.0 465.2,67.1 465.2,67.8 465.3,68.1 465.3,69.3 465.4,69.7 465.4,70.3 465.5,70.3 465.5,70.6 465.6,71.9 465.6,72.4 465.7,73.1 465.7,73.6 465.8,74.5 465.8,74.5 465.9,75.4 465.9,75.5 466.0,75.6 466.0,76.8 466.0,78.1 466.1,77.6 466.1,79.2 466.2,79.2 466.2,79.9 466.2,80.6 466.3,81.2 466.3,81.4 466.3,82.3 466.4,83.0 466.4,83.7 466.4,83.7 466.5,85.1 466.5,85.8 466.6,86.6 466.6,85.8 466.6,86.9 466.7,86.8 466.7,88.1 466.7,88.8 466.8,88.8 466.8,89.2 466.9,90.5 466.9,91.2 467.0,91.3 467.0,92.1 467.1,91.9 467.1,93.1 467.2,94.0 467.2,94.6 467.2,95.6 467.3,95.2 467.4,95.3 467.4,96.9 467.4,97.0 467.5,97.9 467.6,98.6 467.6,99.1 467.6,100.0 467.7,100.5 467.8,100.0 467.9,101.1 468.0,103.2 468.1,102.0 468.2,103.6 468.3,103.4 468.4,103.7 468.5,105.7 468.6,105.9 468.8,105.5 468.9,106.9 469.0,105.9 469.1,106.9 469.3,108.6 469.4,108.5 469.6,108.3 469.8,110.0 469.9,110.5 470.1,112.2 470.3,112.5 470.5,111.7 470.9,112.0 471.2,112.9 471.6,113.3 472.0,115.6 472.3,116.2 472.6,116.4 472.9,115.8 473.1,115.6 473.4,117.3 473.7,116.5 474.0,117.6 474.5,115.8 475.0,117.3 475.5,119.6 476.0,117.2 476.6,116.7 477.1,118.2 477.7,120.2 478.3,120.0 478.9,118.1 479.4,118.0 480.0,118.5 480.6,117.4 481.2,118.3 481.8,117.7 482.4,116.3 483.0,117.1 483.6,117.2 484.2,116.8 484.9,116.8 485.5,119.2 486.1,120.3 486.7,118.1 487.2,118.0 487.8,119.1 488.4,118.5 489.0,118.0 489.6,120.4 490.1,117.9 490.7,118.3 491.3,118.5 491.9,118.4 492.5,119.2 493.0,120.2 493.6,121.3 494.2,120.6 494.8,120.1 495.3,118.9 495.9,120.4 496.5,119.6 497.1,120.7 497.6,122.1 498.2,121.4 498.8,121.0 499.3,120.5 499.9,121.3 500.4,121.5 501.0,120.4 501.6,121.0 502.1,122.5 502.7,119.8 503.3,121.0 503.9,120.1 504.4,122.9 505.0,121.8 505.6,121.6 506.1,121.4 506.7,121.1 507.3,121.0 507.9,119.1 508.4,121.1 509.0,121.5 509.6,119.4 510.1,121.9 510.7,121.8 511.2,119.5 511.8,120.7 512.4,120.9 513.0,120.6 513.5,121.6 514.1,119.8 514.7,121.0 515.2,121.4 515.8,122.0 516.4,121.3 516.9,120.8 517.5,121.6 518.0,118.6 518.6,121.6 519.1,120.1 519.6,118.9 520.2,119.7 520.7,118.0 521.3,117.6 521.8,119.3 522.5,118.9 523.1,120.5 523.8,118.8 524.5,119.8" fill="none" stroke="#000" stroke-width="1.8" stroke-linejoin="round"/>
<text x="395.8" y="27.3" font-size="10.3" font-weight="bold" font-style="italic" fill="#1a75d2">Hf 4f</text>
<text x="440.2" y="23.2" font-size="7.7" font-weight="bold" font-style="italic" fill="#1a75d2" stroke="#1a75d2" stroke-width="0.18">Hf 4f<tspan font-size="5.4" dy="1.8">7/2</tspan><tspan dy="-1.8"> (Hf-O)</tspan></text>
<text x="460.1" y="46" font-size="7.6" font-weight="bold" font-style="italic" fill="#22b04a" stroke="#22b04a" stroke-width="0.18">Hf 4f<tspan font-size="5.3" dy="1.8">5/2</tspan><tspan dy="-1.8"> (Hf-O)</tspan></text>
<text x="469.8" y="136.2" font-size="9.3" font-weight="bold" fill="#ff0000">Etch time: 9 s</text>
<text x="366.4" y="177" font-size="12.5" font-weight="bold" fill="#111">(e)</text>
<rect x="388" y="169.6" width="152.2" height="128.1" fill="none" stroke="#222" stroke-width="1.4"/>
<line x1="387.9" y1="297.6" x2="387.9" y2="299.40000000000003" stroke="#222" stroke-width="1.1"/>
<line x1="415.6" y1="297.6" x2="415.6" y2="299.40000000000003" stroke="#222" stroke-width="1.1"/>
<line x1="443.3" y1="297.6" x2="443.3" y2="299.40000000000003" stroke="#222" stroke-width="1.1"/>
<line x1="471.0" y1="297.6" x2="471.0" y2="299.40000000000003" stroke="#222" stroke-width="1.1"/>
<line x1="498.7" y1="297.6" x2="498.7" y2="299.40000000000003" stroke="#222" stroke-width="1.1"/>
<line x1="526.4" y1="297.6" x2="526.4" y2="299.40000000000003" stroke="#222" stroke-width="1.1"/>
<line x1="401.8" y1="297.6" x2="401.8" y2="298.90000000000003" stroke="#222" stroke-width="1.1"/>
<line x1="429.4" y1="297.6" x2="429.4" y2="298.90000000000003" stroke="#222" stroke-width="1.1"/>
<line x1="457.1" y1="297.6" x2="457.1" y2="298.90000000000003" stroke="#222" stroke-width="1.1"/>
<line x1="484.8" y1="297.6" x2="484.8" y2="298.90000000000003" stroke="#222" stroke-width="1.1"/>
<line x1="512.5" y1="297.6" x2="512.5" y2="298.90000000000003" stroke="#222" stroke-width="1.1"/>
<text x="387.9" y="307.9" font-size="7.9" fill="#1a1a1a" stroke="#1a1a1a" stroke-width="0.25" text-anchor="middle">70</text>
<text x="415.6" y="307.9" font-size="7.9" fill="#1a1a1a" stroke="#1a1a1a" stroke-width="0.25" text-anchor="middle">72</text>
<text x="443.3" y="307.9" font-size="7.9" fill="#1a1a1a" stroke="#1a1a1a" stroke-width="0.25" text-anchor="middle">74</text>
<text x="471.0" y="307.9" font-size="7.9" fill="#1a1a1a" stroke="#1a1a1a" stroke-width="0.25" text-anchor="middle">76</text>
<text x="498.7" y="307.9" font-size="7.9" fill="#1a1a1a" stroke="#1a1a1a" stroke-width="0.25" text-anchor="middle">78</text>
<text x="526.4" y="307.9" font-size="7.9" fill="#1a1a1a" stroke="#1a1a1a" stroke-width="0.25" text-anchor="middle">80</text>
<text x="425.7" y="319.7" font-size="8.75" fill="#222" stroke="#222" stroke-width="0.2">Binding energy (eV)</text>
<text transform="translate(381.8,228.5) rotate(-90)" font-size="8.7" fill="#2a2a2a" stroke="#2a2a2a" stroke-width="0.2" text-anchor="middle">Intensity (a.u.)</text>
<line x1="462.6" y1="196" x2="462.6" y2="297" stroke="#2585dc" stroke-width="1.35" stroke-dasharray="1.6 0.7"/>
<polyline points="402.5,266.6 404.0,265.9 405.2,258.0 406.3,263.8 407.2,258.4 408.2,257.4 409.3,264.8 410.4,262.7 412.1,277.7 413.6,269.1 414.9,259.1 416.4,261.6 417.8,267.0 419.1,272.3 420.6,269.1 421.9,275.5 423.2,268.0 424.5,264.8 426.0,272.3 427.5,264.8 429.2,262.7 430.9,261.6 432.4,260.6 433.9,265.9 434.7,276.6 435.6,263.8 436.9,260.6 437.7,259.5 438.6,271.2 439.4,259.5 440.3,252.0 441.6,248.8 442.4,256.3 443.7,254.2 445.0,260.6 446.2,264.8 447.3,267.0 448.4,256.3 449.5,245.6 450.5,239.2 451.4,232.5 452.7,221.5 453.8,211.0 454.3,209.0 455.2,211.0 455.9,214.0 457.0,220.0 457.8,225.0 458.6,228.5 459.4,220.0 460.0,212.0 460.5,207.5 461.3,206.5 461.9,199.0 462.4,194.0 463.2,197.0 464.1,203.0 464.7,212.0 465.3,221.0 466.0,211.0 466.9,211.5 467.6,215.0 468.3,221.0 469.2,233.0 470.1,216.0 471.0,215.5 471.8,225.0 472.5,236.0 473.5,264.8 474.6,253.1 476.1,254.2 477.4,252.0 478.5,262.7 479.3,275.5 480.6,259.5 482.1,276.6 484.2,276.6 485.9,260.6 487.4,260.6 489.6,262.7 490.6,263.8 491.8,246.4 492.7,277.5 494.0,258.3 495.5,253.7 497.0,256.5 498.2,267.4 499.5,273.8 501.0,267.4 502.3,270.2 503.7,266.5 505.0,272.0 506.5,275.7 507.9,270.2 509.2,272.0 510.5,272.9 511.6,285.7 512.9,277.5 514.7,278.4 516.5,279.3 517.8,284.8 518.9,287.9" fill="none" stroke="#000" stroke-width="1.95" stroke-linejoin="round"/>
<text x="400.5" y="183.5" font-size="11.2" font-weight="bold" font-style="italic" fill="#1a75d2">Al 2p</text>
<text x="467.5" y="197.1" font-size="7.7" font-weight="bold" font-style="italic" fill="#1a75d2" stroke="#1a75d2" stroke-width="0.18">Al 2p (Al-O)</text>
<text x="470" y="183" font-size="9.3" font-weight="bold" fill="#ff0000">Etch time: 9 s</text>
</svg>
</body></html>
